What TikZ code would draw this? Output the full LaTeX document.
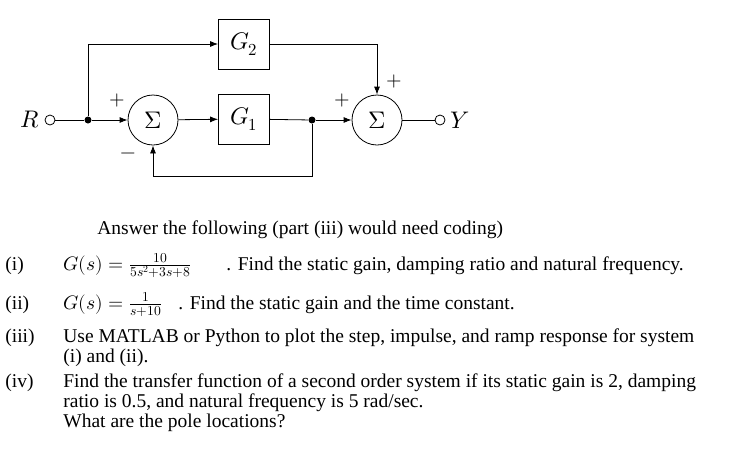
\documentclass[tikz,border=0pt]{standalone}
\usepackage{unicode-math}
\setmainfont{Liberation Serif}
\setmathfont{Latin Modern Math}
\usetikzlibrary{arrows.meta}
\begin{document}
\begin{tikzpicture}[x=1pt,y=-1pt,
  blk/.style={draw,minimum width=51pt,minimum height=50pt,font=\fontsize{24}{26}\selectfont},
  sum/.style={draw,circle,minimum size=50pt,inner sep=0pt,font=\fontsize{24}{26}\selectfont},
  term/.style={draw,circle,fill=white,minimum size=10pt,inner sep=0pt},
  dot/.style={circle,fill,minimum size=7pt,inner sep=0pt},
  sgn/.style={font=\fontsize{20}{20}\selectfont},
  txt/.style={anchor=base west,inner sep=0pt,font=\fontsize{19.5}{21}\selectfont},
  sig/.style={-{Latex[length=8pt,width=6pt]}},
  every path/.style={line width=0.8pt}]
\useasboundingbox (0,0) rectangle (738,461);
% block diagram
\node (rl) at (30,120) {\fontsize{24}{26}\selectfont $R$};
\node[term] (r) at (50,120) {};
\node[dot] (j1) at (88,120) {};
\node[sum] (s1) at (153,120) {$\Sigma$};
\node[blk] (g1) at (244,119) {$G_1$};
\node[blk] (g2) at (244,44) {$G_2$};
\node[dot] (j2) at (312,120) {};
\node[sum] (s2) at (377,120) {$\Sigma$};
\node[term] (y) at (440,120) {};
\node (yl) at (460,120) {\fontsize{24}{26}\selectfont $Y$};
\coordinate (fb) at (312,176);
\draw (r) -- (j1);
\draw[sig] (j1) -- (s1);
\draw[sig] (s1) -- (g1);
\draw (g1) -- (j2);
\draw[sig] (j2) -- (s2);
\draw (s2) -- (y);
\draw[sig] (j1) |- (g2);
\draw[sig] (g2) -| (s2);
\draw[sig] (j2) -- (fb) -| (s1);
\node[sgn] at (117,100) {$+$};
\node[sgn] at (128,156) {$-$};
\node[sgn] at (342,100) {$+$};
\node[sgn] at (394,81) {$+$};
% text
\node[txt] at (97,234) {Answer the following (part (iii) would need coding)};
\node[txt] at (5,270) {(i)};
\node[txt] at (63,270) {$G(s)=\frac{10}{5s^2+3s+8}$};
\node[txt] at (226,270) {. Find the static gain, damping ratio and natural frequency.};
\node[txt] at (5,309) {(ii)};
\node[txt] at (63,309) {$G(s)=\frac{1}{s+10}$};
\node[txt] at (178,309) {. Find the static gain and the time constant.};
\node[txt] at (5,342) {(iii)};
\node[txt] at (63,342) {Use MATLAB or Python to plot the step, impulse, and ramp response for system};
\node[txt] at (63,362) {(i) and (ii).};
\node[txt] at (5,387) {(iv)};
\node[txt] at (63,387) {Find the transfer function of a second order system if its static gain is 2, damping};
\node[txt] at (63,407) {ratio is 0.5, and natural frequency is 5 rad/sec.};
\node[txt] at (63,427) {What are the pole locations?};
\end{tikzpicture}
\end{document}
